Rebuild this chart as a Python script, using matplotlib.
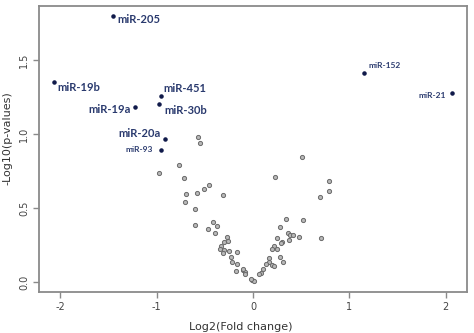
import matplotlib.pyplot as plt

# significant miRNAs (highlighted)
sig_names = ['miR-205', 'miR-19b', 'miR-451', 'miR-30b', 'miR-19a',
             'miR-20a', 'miR-93', 'miR-152', 'miR-21']
sig_x = [-1.45, -2.06, -0.95, -0.97, -1.22, -0.915, -0.95, 1.147, 2.06]
sig_y = [1.80, 1.35, 1.255, 1.20, 1.18, 0.966, 0.894, 1.41, 1.277]

# the rest of the miRNAs
other_x = [-0.573, -0.549, -0.769, -0.974, -0.718, -0.461, -0.510, -0.577,
           -0.691, -0.311, -0.710, -0.598, -0.604, -0.417, -0.373, -0.466,
           -0.392, -0.266, -0.259, -0.301, -0.332, -0.339, -0.303, -0.316,
           -0.253, -0.168, -0.231, -0.218, -0.171, -0.101, -0.181, -0.080,
           -0.083, -0.107, -0.010, 0.010, 0.511, 0.228, 0.788, 0.785,
           0.697, 0.347, 0.521, 0.285, 0.254, 0.363, 0.389, 0.415,
           0.474, 0.371, 0.303, 0.287, 0.705, 0.218, 0.192, 0.254,
           0.285, 0.314, 0.163, 0.168, 0.197, 0.220, 0.140, 0.104,
           0.087, 0.067, -0.018]
other_y = [0.982, 0.937, 0.788, 0.736, 0.703, 0.652, 0.628, 0.601,
           0.593, 0.590, 0.537, 0.493, 0.385, 0.402, 0.380, 0.360,
           0.332, 0.305, 0.277, 0.267, 0.245, 0.223, 0.216, 0.198,
           0.209, 0.199, 0.169, 0.137, 0.124, 0.079, 0.076, 0.065,
           0.052, 0.086, 0.014, 0.005, 0.843, 0.709, 0.684, 0.615,
           0.572, 0.424, 0.419, 0.370, 0.297, 0.330, 0.318, 0.314,
           0.303, 0.282, 0.273, 0.265, 0.294, 0.245, 0.224, 0.221,
           0.170, 0.133, 0.161, 0.133, 0.117, 0.111, 0.120, 0.088,
           0.063, 0.054, 0.017]

# label offsets in pixels, alignment, bold/small
lab_off = [(4, -4), (2.5, -5), (1.5, 8), (5, -6), (-4.5, -2),
           (-4, 6), (-8.5, 0.5), (5, 8), (-6, -3)]
lab_ha = ['left', 'left', 'left', 'left', 'right', 'right', 'right', 'left', 'right']
lab_big = [True, True, True, True, True, True, False, False, False]

navy = '#2a3a6e'
frame = '#8a8a8a'

fig = plt.figure(figsize=(4.74, 3.33), dpi=100)
ax = fig.add_axes([39/474, 1 - 292/333, 428/474, 286/333])

ax.scatter(other_x, other_y, s=9, facecolor='#b8b8b8', edgecolor='#6a6a6a',
           linewidths=0.7, zorder=2)
ax.scatter(sig_x, sig_y, s=5, color='#101a4a', zorder=3)

for i, name in enumerate(sig_names):
    ax.annotate(name, (sig_x[i], sig_y[i]), xytext=lab_off[i],
                textcoords='offset pixels', ha=lab_ha[i], va='center',
                color=navy, family=['Lato', 'DejaVu Sans'],
                fontsize=8 if lab_big[i] else 6,
                fontweight='bold')

ax.set_xlim(-2.22, 2.22)
ax.set_ylim(-0.068, 1.865)
ax.set_xticks([-2, -1, 0, 1, 2])
ax.set_yticks([0.0, 0.5, 1.0, 1.5])
ax.set_xticklabels(['-2', '-1', '0', '1', '2'])
ax.set_yticklabels(['0.0', '0.5', '1.0', '1.5'], rotation=90, va='center')
ax.tick_params(direction='out', length=4, width=1, color=frame,
               labelsize=7, labelcolor='#444444', pad=3)
for sp in ax.spines.values():
    sp.set_color(frame)
    sp.set_linewidth(1.3)

ax.set_xlabel('Log2(Fold change)', fontsize=8, color='#333333')
ax.set_ylabel('-Log10(p-values)', fontsize=8, color='#333333')
ax.xaxis.set_label_coords((241 - 39) / 428, -(322 - 292) / 286)
ax.yaxis.set_label_coords(-(39 - 12) / 428, (292 - 138) / 286)

fig.savefig('out.png', dpi=100)
